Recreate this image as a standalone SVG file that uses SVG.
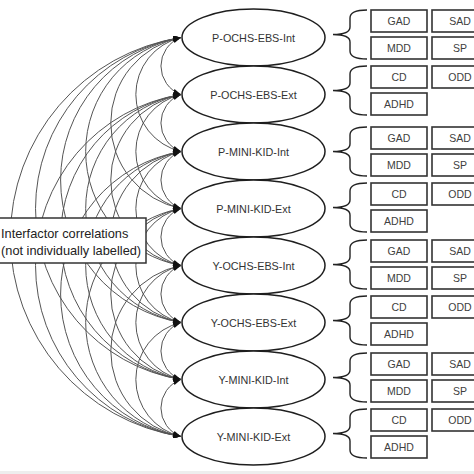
<svg xmlns="http://www.w3.org/2000/svg" width="474" height="474" viewBox="0 0 474 474">
<style>
.arc{fill:none;stroke:#555;stroke-width:1;marker-start:url(#ah);marker-end:url(#ah)}
.lat ellipse{fill:#fff;stroke:#1e1e1e;stroke-width:1.5}
.lat text{font-family:"Liberation Sans",Arial,sans-serif;font-size:10.8px;fill:#333;text-anchor:middle}
.bx{fill:#fff;stroke:#333;stroke-width:1.6}
.bt{font-family:"Liberation Sans",Arial,sans-serif;font-size:10.5px;fill:#404040;text-anchor:middle}
.brace{fill:none;stroke:#222;stroke-width:1.4}
.lbl{font-family:"Liberation Sans",Arial,sans-serif;font-size:12.8px;fill:#222}
</style>
<defs>
<marker id="ah" markerUnits="userSpaceOnUse" markerWidth="8" markerHeight="6" refX="8" refY="3" orient="auto-start-reverse">
<path d="M0,0 L8,3 L0,6 z" fill="#111"/>
</marker>
<g id="intSet">
<rect class="bx" x="371" y="0" width="56" height="22"/><text class="bt" x="399" y="15">GAD</text>
<rect class="bx" x="432" y="0" width="56" height="22"/><text class="bt" x="460" y="15">SAD</text>
<rect class="bx" x="371" y="27" width="56" height="22"/><text class="bt" x="399" y="42">MDD</text>
<rect class="bx" x="432" y="27" width="56" height="22"/><text class="bt" x="460" y="42">SP</text>
<path class="brace" d="M367,0 Q350,0 350,8 L350,17 Q350,24.5 333,24.5 Q350,24.5 350,32 L350,41 Q350,49 367,49"/>
</g>
<g id="extSet">
<rect class="bx" x="371" y="0" width="56" height="22"/><text class="bt" x="399" y="15">CD</text>
<rect class="bx" x="432" y="0" width="56" height="22"/><text class="bt" x="460" y="15">ODD</text>
<rect class="bx" x="371" y="27" width="56" height="22"/><text class="bt" x="399" y="42">ADHD</text>
<path class="brace" d="M367,0 Q350,0 350,8 L350,17 Q350,24.5 333,24.5 Q350,24.5 350,32 L350,41 Q350,49 367,49"/>
</g>
</defs>
<rect x="0" y="0" width="474" height="474" fill="#fff"/>
<rect x="0" y="471" width="474" height="3" fill="#eee"/>
<g id="connectors">
<path class="arc" d="M181,37.5 A30.27,30.27 0 0 0 181,94.5"/>
<path class="arc" d="M181,37.5 A58.55,58.55 0 0 0 181,151.5"/>
<path class="arc" d="M181,37.5 A87.16,87.16 0 0 0 181,208.5"/>
<path class="arc" d="M181,37.5 A115.83,115.83 0 0 0 181,265.5"/>
<path class="arc" d="M181,37.5 A144.53,144.53 0 0 0 181,322.5"/>
<path class="arc" d="M181,37.5 A173.24,173.24 0 0 0 181,379.5"/>
<path class="arc" d="M181,37.5 A201.95,201.95 0 0 0 181,436.5"/>
<path class="arc" d="M181,94.5 A30.27,30.27 0 0 0 181,151.5"/>
<path class="arc" d="M181,94.5 A58.55,58.55 0 0 0 181,208.5"/>
<path class="arc" d="M181,94.5 A87.16,87.16 0 0 0 181,265.5"/>
<path class="arc" d="M181,94.5 A115.83,115.83 0 0 0 181,322.5"/>
<path class="arc" d="M181,94.5 A144.53,144.53 0 0 0 181,379.5"/>
<path class="arc" d="M181,94.5 A173.24,173.24 0 0 0 181,436.5"/>
<path class="arc" d="M181,151.5 A30.27,30.27 0 0 0 181,208.5"/>
<path class="arc" d="M181,151.5 A58.55,58.55 0 0 0 181,265.5"/>
<path class="arc" d="M181,151.5 A87.16,87.16 0 0 0 181,322.5"/>
<path class="arc" d="M181,151.5 A115.83,115.83 0 0 0 181,379.5"/>
<path class="arc" d="M181,151.5 A144.53,144.53 0 0 0 181,436.5"/>
<path class="arc" d="M181,208.5 A30.27,30.27 0 0 0 181,265.5"/>
<path class="arc" d="M181,208.5 A58.55,58.55 0 0 0 181,322.5"/>
<path class="arc" d="M181,208.5 A87.16,87.16 0 0 0 181,379.5"/>
<path class="arc" d="M181,208.5 A115.83,115.83 0 0 0 181,436.5"/>
<path class="arc" d="M181,265.5 A30.27,30.27 0 0 0 181,322.5"/>
<path class="arc" d="M181,265.5 A58.55,58.55 0 0 0 181,379.5"/>
<path class="arc" d="M181,265.5 A87.16,87.16 0 0 0 181,436.5"/>
<path class="arc" d="M181,322.5 A30.27,30.27 0 0 0 181,379.5"/>
<path class="arc" d="M181,322.5 A58.55,58.55 0 0 0 181,436.5"/>
<path class="arc" d="M181,379.5 A30.27,30.27 0 0 0 181,436.5"/>
</g>
<g id="label">
<rect x="-10" y="218" width="156" height="45" fill="#fff" stroke="#333" stroke-width="1.5"/>
<text class="lbl" x="1" y="237.5">Interfactor correlations</text>
<text class="lbl" x="1" y="254.5">(not individually labelled)</text>
</g>
<g id="p-ochs-int" class="lat"><ellipse cx="253.5" cy="37.5" rx="71.5" ry="28.5"/><text x="253.5" y="41.5">P-OCHS-EBS-Int</text></g>
<g id="p-ochs-ext" class="lat"><ellipse cx="253.5" cy="94.5" rx="71.5" ry="28.5"/><text x="253.5" y="98.5">P-OCHS-EBS-Ext</text></g>
<g id="p-mini-int" class="lat"><ellipse cx="253.5" cy="151.5" rx="71.5" ry="28.5"/><text x="253.5" y="155.5">P-MINI-KID-Int</text></g>
<g id="p-mini-ext" class="lat"><ellipse cx="253.5" cy="208.5" rx="71.5" ry="28.5"/><text x="253.5" y="212.5">P-MINI-KID-Ext</text></g>
<g id="y-ochs-int" class="lat"><ellipse cx="253.5" cy="265.5" rx="71.5" ry="28.5"/><text x="253.5" y="269.5">Y-OCHS-EBS-Int</text></g>
<g id="y-ochs-ext" class="lat"><ellipse cx="253.5" cy="322.5" rx="71.5" ry="28.5"/><text x="253.5" y="326.5">Y-OCHS-EBS-Ext</text></g>
<g id="y-mini-int" class="lat"><ellipse cx="253.5" cy="379.5" rx="71.5" ry="28.5"/><text x="253.5" y="383.5">Y-MINI-KID-Int</text></g>
<g id="y-mini-ext" class="lat"><ellipse cx="253.5" cy="436.5" rx="71.5" ry="28.5"/><text x="253.5" y="440.5">Y-MINI-KID-Ext</text></g>
<g id="ind-p-ochs-int"><use href="#intSet" transform="translate(0,10)"/></g>
<g id="ind-p-ochs-ext"><use href="#extSet" transform="translate(0,66)"/></g>
<g id="ind-p-mini-int"><use href="#intSet" transform="translate(0,127)"/></g>
<g id="ind-p-mini-ext"><use href="#extSet" transform="translate(0,183)"/></g>
<g id="ind-y-ochs-int"><use href="#intSet" transform="translate(0,240)"/></g>
<g id="ind-y-ochs-ext"><use href="#extSet" transform="translate(0,296)"/></g>
<g id="ind-y-mini-int"><use href="#intSet" transform="translate(0,353)"/></g>
<g id="ind-y-mini-ext"><use href="#extSet" transform="translate(0,409)"/></g>
</svg>
